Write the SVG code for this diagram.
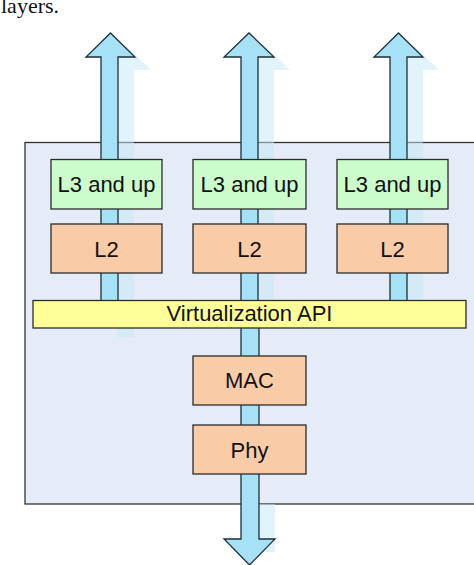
<svg xmlns="http://www.w3.org/2000/svg" width="474" height="565" viewBox="0 0 474 565">
<style>
  .box{stroke:#2b2b2b;stroke-width:1.3}
  .l3{fill:#ccfccc}
  .l2{fill:#f9cba6}
  .api{fill:#ffff99}
  .arrow{fill:#a6e1f6;stroke:#1f2f3a;stroke-width:1.3;stroke-linejoin:miter}
  .shadow{fill:#c4e8f7;opacity:0.5}
  .lbl{font-family:"Liberation Sans",Arial,sans-serif;font-size:22px;fill:#111;text-anchor:middle}
  .cap{font-family:"Liberation Serif","Times New Roman",serif;font-size:22px;fill:#111}
</style>
<rect width="474" height="565" fill="#ffffff"/>
<text class="cap" x="1" y="12.5">layers.</text>
<g id="panel">
  <rect x="25" y="142.5" width="452" height="361.5" fill="#e6ecf7" stroke="#333" stroke-width="1.3"/>
</g>
<g id="connectors">
  <g id="shadows">
    <polygon class="shadow" points="117,313 117,70 102,70 126,46 151,70 134,70 134,337 117,337"/>
    <polygon class="shadow" points="257,313 257,70 240,70 265,46 290,70 274,70 274,313"/>
    <polygon class="shadow" points="406,313 406,70 390,70 414,46 439,70 423,70 423,313"/>
    <polygon class="shadow" points="259,504 275,504 275,552 259,552"/>
  </g>
  <polygon id="arrow-l2a" class="arrow" points="101,305 101,57 86,57 110.5,33 135,57 118,57 118,305"/>
  <polygon id="arrow-l2b" class="arrow" points="241,305 241,57 224,57 249,33 274,57 258,57 258,305"/>
  <polygon id="arrow-l2c" class="arrow" points="390,305 390,57 374,57 398.5,33 423,57 407,57 407,305"/>
  <polygon id="arrow-phy" class="arrow" points="241,320 241,539 224,539 249.5,565 275,539 259,539 259,320"/>
</g>
<g id="l3a"><rect class="box l3" x="51" y="159.5" width="111" height="49.5"/><text class="lbl" x="106.5" y="192">L3 and up</text></g>
<g id="l3b"><rect class="box l3" x="193" y="159.5" width="113" height="49.5"/><text class="lbl" x="249.5" y="192">L3 and up</text></g>
<g id="l3c"><rect class="box l3" x="337" y="159.5" width="111" height="49.5"/><text class="lbl" x="392.5" y="192">L3 and up</text></g>
<g id="l2a"><rect class="box l2" x="51" y="224" width="111" height="49"/><text class="lbl" x="106.5" y="256.5">L2</text></g>
<g id="l2b"><rect class="box l2" x="193" y="224" width="113" height="49"/><text class="lbl" x="249.5" y="256.5">L2</text></g>
<g id="l2c"><rect class="box l2" x="337" y="224" width="111" height="49"/><text class="lbl" x="392.5" y="256.5">L2</text></g>
<g id="api"><rect class="box api" x="33" y="300.5" width="433" height="27.5"/><text class="lbl" x="249.5" y="321">Virtualization API</text></g>
<g id="mac"><rect class="box l2" x="193" y="356" width="113" height="49"/><text class="lbl" x="249.5" y="388">MAC</text></g>
<g id="phy"><rect class="box l2" x="193" y="425" width="113" height="49"/><text class="lbl" x="249.5" y="457.5">Phy</text></g>
</svg>
